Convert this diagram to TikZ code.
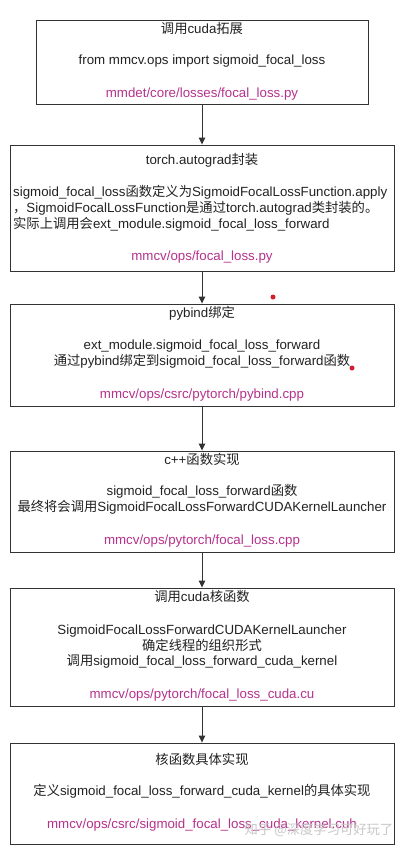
\documentclass[tikz,border=0pt]{standalone}
\usepackage{fontspec}
\setmainfont{Liberation Sans}
\newfontfamily\cjk{Noto Sans CJK SC}
\newcommand\zh[1]{{\cjk #1}}
\usetikzlibrary{arrows.meta}
\definecolor{pathc}{RGB}{181,50,140}
\definecolor{linec}{RGB}{51,51,51}
\definecolor{txtc}{RGB}{34,34,34}
\definecolor{dotc}{RGB}{208,32,47}
\definecolor{wmc}{RGB}{200,200,200}
\tikzset{
  box/.style={draw=linec, line width=0.9bp, inner sep=0pt},
  txt/.style={text=txtc, inner sep=0pt, anchor=mid},
  ltxt/.style={text=txtc, inner sep=0pt, anchor=mid west},
  ptxt/.style={text=pathc, inner sep=0pt, anchor=mid},
  arr/.style={draw=linec, line width=0.9bp, -{Triangle[length=7bp,width=6.5bp]}},
}
\begin{document}
\begin{tikzpicture}[x=1bp,y=-1bp,font=\fontsize{13.3bp}{16bp}\selectfont]
\fill[white] (0,0) rectangle (405,856);
\useasboundingbox (0,0) rectangle (405,856);
% boxes
\node[box, minimum width=332bp, minimum height=84bp] (b1) at (202,62) {};
\node[box, minimum width=384bp, minimum height=126bp] (b2) at (202,208) {};
\node[box, minimum width=384bp, minimum height=102bp] (b3) at (202,355) {};
\node[box, minimum width=384bp, minimum height=101bp] (b4) at (202,501.5) {};
\node[box, minimum width=384bp, minimum height=118bp] (b5) at (202,647) {};
\node[box, minimum width=384bp, minimum height=101bp] (b6) at (202,793.5) {};
% arrows
\draw[arr] (b1.south) -- (b2.north);
\draw[arr] (b2.south) -- (b3.north);
\draw[arr] (b3.south) -- (b4.north);
\draw[arr] (b4.south) -- (b5.north);
\draw[arr] (b5.south) -- (b6.north);
% box 1
\node[txt] (t11) at (202,31) {\zh{调用}cuda\zh{拓展}};
\node[txt] (t12) at (202,62) {from mmcv.ops import sigmoid\_focal\_loss};
\node[ptxt] (t13) at (202,95) {mmdet/core/losses/focal\_loss.py};
% box 2
\node[txt] (t21) at (202,162) {torch.autograd\zh{封装}};
\node[ltxt] (t22) at (13,194) {sigmoid\_focal\_loss\zh{函数定义为}SigmoidFocalLossFunction.apply};
\node[ltxt] (t23) at (13,210) {\zh{，}SigmoidFocalLossFunction\zh{是通过}torch.autograd\zh{类封装的。}};
\node[ltxt] (t24) at (13,226) {\zh{实际上调用会}ext\_module.sigmoid\_focal\_loss\_forward};
\node[ptxt] (t25) at (202,258) {mmcv/ops/focal\_loss.py};
% box 3
\node[txt] (t31) at (202,315) {pybind\zh{绑定}};
\node[txt] (t32) at (202,347) {ext\_module.sigmoid\_focal\_loss\_forward};
\node[txt] (t33) at (202,363) {\zh{通过}pybind\zh{绑定到}sigmoid\_focal\_loss\_forward\zh{函数}};
\node[ptxt] (t34) at (202,396) {mmcv/ops/csrc/pytorch/pybind.cpp};
% box 4
\node[txt] (t41) at (202,462) {c++\zh{函数实现}};
\node[txt] (t42) at (202,493) {sigmoid\_focal\_loss\_forward\zh{函数}};
\node[txt] (t43) at (202,509) {\zh{最终将会调用}SigmoidFocalLossForwardCUDAKernelLauncher};
\node[ptxt] (t44) at (202,542) {mmcv/ops/pytorch/focal\_loss.cpp};
% box 5
\node[txt] (t51) at (202,599) {\zh{调用}cuda\zh{核函数}};
\node[txt] (t52) at (202,632) {SigmoidFocalLossForwardCUDAKernelLauncher};
\node[txt] (t53) at (202,648) {\zh{确定线程的组织形式}};
\node[txt] (t54) at (202,663) {\zh{调用}sigmoid\_focal\_loss\_forward\_cuda\_kernel};
\node[ptxt] (t55) at (202,696) {mmcv/ops/pytorch/focal\_loss\_cuda.cu};
% box 6
\node[txt] (t61) at (202,762) {\zh{核函数具体实现}};
\node[txt] (t62) at (202,793) {\zh{定义}sigmoid\_focal\_loss\_forward\_cuda\_kernel\zh{的具体实现}};
\node[ptxt] (t63) at (202,826) {mmcv/ops/csrc/sigmoid\_focal\_loss\_cuda\_kernel.cuh};
% watermark
\node[text=wmc, inner sep=0pt, anchor=mid] (wm) at (319,832) {\zh{知乎 @深度学习可好玩了}};
% red dots
\fill[dotc] (273,297) circle (2.5bp);
\fill[dotc] (352,368) circle (2.5bp);
\end{tikzpicture}
\end{document}
